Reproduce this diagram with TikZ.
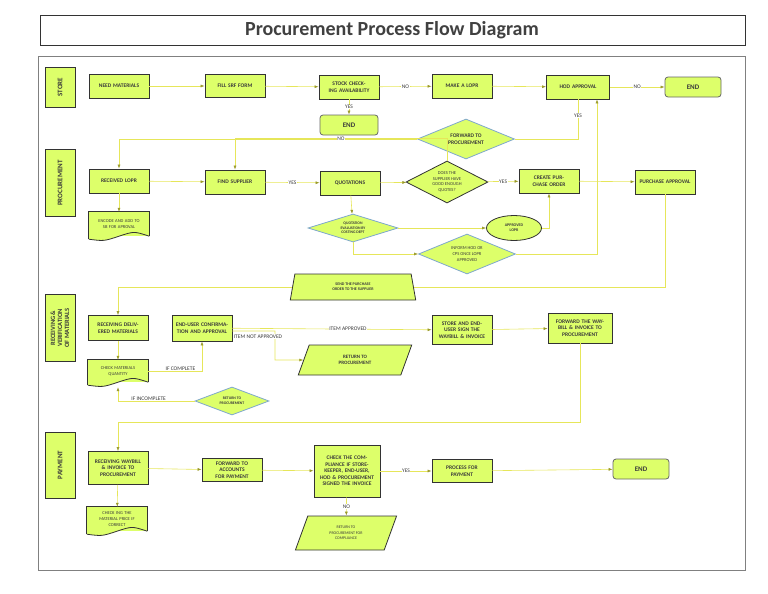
\documentclass[tikz,border=0pt]{standalone}
\usepackage{fontspec}
\setmainfont{Carlito}
\usetikzlibrary{shapes.geometric,calc,arrows.meta}
\definecolor{boxfill}{HTML}{DDFF6A}
\definecolor{linec}{HTML}{E6E65A}
\definecolor{tipc}{HTML}{9A9A2A}
\definecolor{txtc}{HTML}{3A3A3A}
\definecolor{dblue}{HTML}{7FA8CC}
\tikzset{
  x=1pt, y=-1pt,
  every node/.style={font=\fontsize{5.5}{6.5}\selectfont\bfseries, text=txtc, align=center, inner sep=1pt},
  box/.style={draw=black!80, thick, fill=boxfill, minimum width=#1, text width=#1-6pt},
  box/.default=60pt,
  term/.style={draw=black!60, thick, fill=boxfill, rounded corners=3pt, minimum width=56pt, minimum height=20pt, font=\fontsize{7}{8}\selectfont\bfseries},
  dia/.style={diamond, draw=dblue, thick, fill=boxfill, aspect=2.4, inner sep=0pt},
  doc/.style={fill=boxfill, minimum width=60pt, text width=56pt, font=\fontsize{4.5}{6}\selectfont},
  para/.style={trapezium, trapezium left angle=70, trapezium right angle=110, draw=black!80, thick, fill=boxfill, font=\fontsize{4.5}{6}\selectfont},
  lane/.style={draw=black!80, thick, fill=boxfill, minimum width=30pt, font=\fontsize{7}{8}\selectfont\bfseries, rotate=90},
  arr/.style={draw=linec, semithick, -{Latex[length=4pt,width=3pt,color=tipc]}},
  ln/.style={draw=linec, semithick},
  lbl/.style={font=\fontsize{5.5}{6.5}\selectfont, fill=white, inner sep=0.5pt},
}
\newcommand\wavydoc[1]{%
  \fill[boxfill] (#1.north west) -- (#1.north east) -- (#1.south east)
   .. controls ($($(#1.south)!0.5!(#1.south east)$)+(0,-5)$) .. (#1.south)
   .. controls ($($(#1.south)!0.5!(#1.south west)$)+(0,5)$) .. ($(#1.south west)+(0,3)$) -- cycle;
  \draw[black!80, thick] (#1.south east) -- (#1.north east) -- (#1.north west) -- ($(#1.south west)+(0,3)$);
  \draw[black!80, thick] (#1.south east)
   .. controls ($($(#1.south)!0.5!(#1.south east)$)+(0,-5)$) .. (#1.south)
   .. controls ($($(#1.south)!0.5!(#1.south west)$)+(0,5)$) .. ($(#1.south west)+(0,3)$);
  \node[doc] at (#1) {\csname doctext#1\endcsname};}
\begin{document}
\begin{tikzpicture}
\useasboundingbox (0,0) rectangle (768,594);
% frames
\draw[black!80, thick] (40,15) rectangle (745,45);
\node[font=\fontsize{20}{22}\selectfont\bfseries, text=black!75] (title) at (392,30) {Procurement Process Flow Diagram};
\draw[black!50, thick] (38,56) rectangle (745,570);
% lanes
\node[lane, minimum height=30pt, minimum width=40pt] (lstore) at (60,87) {STORE};
\node[lane, minimum height=30pt, minimum width=67pt] (lproc) at (60,183) {PROCUREMENT};
\node[lane, minimum height=30pt, minimum width=67pt, font=\fontsize{6.5}{7}\selectfont\bfseries] (lrecv) at (60,328) {RECEIVING \&\\VERIFICATION\\OF MATERIALS};
\node[lane, minimum height=30pt, minimum width=66pt] (lpay) at (60,465) {PAYMENT};
% store row
\node[box, minimum height=24pt] (need) at (119,86) {NEED MATERIALS};
\node[box, minimum height=23pt] (srf) at (235,86) {FILL SRF FORM};
\node[box, minimum height=24pt] (stock) at (349,87) {STOCK CHECKING AVAILABILITY};
\node[box, minimum height=24pt] (lopr) at (462,86) {MAKE A LOPR};
\node[box=63pt, minimum height=24pt] (hod) at (578,87) {HOD APPROVAL};
\node[term] (end1) at (693,87) {END};
\node[term, minimum width=58pt] (end2) at (349,125) {END};
\node[dia, minimum width=97pt, minimum height=40pt] (fwd) at (466,139) {FORWARD TO\\PROCUREMENT};
% procurement row
\node[box, minimum height=24pt] (rlopr) at (119,181) {RECEIVED LOPR};
\node[box, minimum height=24pt] (find) at (235,182) {FIND SUPPLIER};
\node[box, minimum height=24pt] (quot) at (350,183) {QUOTATIONS};
\node[dia, draw=black!80, minimum width=82pt, minimum height=42pt, font=\fontsize{4.5}{5.5}\selectfont] (good) at (447,182) {DOES THE\\SUPPLIER HAVE\\GOOD ENOUGH\\QUOTES?};
\node[box, minimum height=24pt] (cpo) at (549,181) {CREATE PURCHASE ORDER};
\node[box, minimum height=24pt] (papp) at (665,182) {PURCHASE APPROVAL};
\node[doc, minimum height=24pt] (enc) at (119,224) {};
\node[dia, minimum width=90pt, minimum height=28pt, font=\fontsize{3.8}{4.5}\selectfont\bfseries] (qeval) at (353,228) {QUOTATION\\EVALUATION BY\\COSTING DEPT};
\node[ellipse, draw=black!80, thick, fill=boxfill, minimum width=55pt, minimum height=25pt, font=\fontsize{4}{5}\selectfont\bfseries] (alopr) at (514,228) {APPROVED\\LOPR};
\node[dia, minimum width=97pt, minimum height=40pt, font=\fontsize{4.5}{6}\selectfont] (inform) at (467,254) {INFORM HOD OR\\CPS ONCE LOPR\\APPROVED};
\node[trapezium, trapezium left angle=80, trapezium right angle=80, draw=black!80, thick, fill=boxfill, minimum width=72pt, minimum height=26pt, font=\fontsize{4}{5}\selectfont\bfseries] (send) at (353,287) {SEND THE PURCHASE\\ORDER TO THE SUPPLIER};
% receiving row
\node[box, minimum height=25pt] (rdel) at (118,328) {RECEIVING DELIVERED MATERIALS};
\node[box, minimum height=26pt] (eu) at (202,328) {END-USER CONFIRMATION AND APPROVAL};
\node[box, minimum height=29pt] (ssign) at (462,330) {STORE AND END-USER SIGN THE WAYBILL \& INVOICE};
\node[box=64pt, minimum height=30pt] (fwb) at (580,328) {FORWARD THE WAYBILL \& INVOICE TO PROCUREMENT};
\node[doc, minimum height=22pt] (chk) at (118,371) {};
\node[para, minimum width=62pt, minimum height=30pt, font=\fontsize{5}{6}\selectfont\bfseries] (retp) at (355,360) {RETURN TO\\PROCUREMENT};
\node[dia, minimum width=74pt, minimum height=28pt, font=\fontsize{3.8}{4.5}\selectfont\bfseries] (retd) at (232,401) {RETURN TO\\PROCUREMENT};
% payment row
\node[box, minimum height=33pt] (rwb) at (118,468) {RECEIVING WAYBILL \& INVOICE TO PROCUREMENT};
\node[box, minimum height=23pt] (acc) at (232,470) {FORWARD TO ACCOUNTS FOR PAYMENT};
\node[box=66pt, minimum height=52pt] (comp) at (347,471) {CHECK THE COMPLIANCE IF STOREKEEPER, END-USER, HOD \& PROCUREMENT SIGNED THE INVOICE};
\node[box, minimum height=23pt] (pay) at (462,471) {PROCESS FOR PAYMENT};
\node[term] (end3) at (641,469) {END};
\node[doc, minimum height=24pt] (cprice) at (117,519) {};
\node[para, minimum width=62pt, minimum height=34pt, font=\fontsize{4}{5.5}\selectfont] (retc) at (346,533) {RETURN TO\\PROCUREMENT FOR\\COMPLIANCE};
% documents
\def\doctextenc{ENCODE AND ADD TO\\SB FOR APROVAL}
\def\doctextchk{CHECK MATERIALS\\QUANTITY}
\def\doctextcprice{CHECK ING THE\\MATERIAL PRICE IF\\CORRECT}
\wavydoc{enc}\wavydoc{chk}\wavydoc{cprice}
% connectors: store
\draw[arr] (need) -- (srf);
\draw[arr] (srf) -- (stock);
\draw[arr] (stock) -- node[lbl]{NO} (lopr);
\draw[arr] (lopr) -- (hod);
\draw[arr] (hod) -- node[lbl]{NO} (end1);
\draw[arr] (stock) -- node[lbl]{YES} (end2);
\draw[ln] (hod.south) -- node[lbl, pos=0.4]{YES} (hod.south |- fwd.east) -- (fwd.east);
\draw[arr] (fwd.west) -| (rlopr.north);
% procurement
\draw[arr] (rlopr) -- (find);
\draw[arr] (find) -- node[lbl]{YES} (quot);
\draw[arr] (quot) -- (good);
\draw[arr] (good) -- node[lbl]{YES} (cpo);
\draw[arr] (cpo) -- (papp);
\draw[arr] (good.north) -- ++(0,-22) -| node[lbl, pos=0.25]{NO} (find.north);
\draw[arr] (rlopr) -- (enc);
\draw[arr] (quot) -- (qeval);
\draw[arr] (qeval) -- (alopr);
\draw[arr] (alopr.east) -| (cpo.south);
\draw[arr] (qeval.south) |- (inform.west);
\draw[arr] (inform.east) -| ([xshift=19pt]hod.south);
\draw[ln] (papp.south) |- (send.east);
\draw[arr] (send.west) -| (rdel.north);
% receiving
\draw[arr] (rdel) -- (chk);
\draw[arr] (chk.east) -| node[lbl, pos=0.3, above]{IF COMPLETE} (eu.south);
\draw[arr, {Latex[length=4pt,width=3pt,color=tipc]}-] ([yshift=-5pt]chk.south) |- node[lbl, pos=0.7, above]{IF INCOMPLETE} (retd.west);
\draw[arr] (eu) -- node[lbl, pos=0.58]{ITEM APPROVED} (ssign);
\draw[arr] ([yshift=-3pt]eu.east) -| (275,360) node[lbl, pos=0.3, below=3pt]{ITEM NOT APPROVED} -- (retp.west);
\draw[arr] (ssign) -- (fwb);
\draw[arr] (fwb.south) |- (118,422) -- (rwb.north);
% payment
\draw[arr] (rwb) -- (acc);
\draw[arr] (acc) -- (comp);
\draw[arr] (comp) -- node[lbl]{YES} (pay);
\draw[arr] (pay) -- (end3);
\draw[arr] (rwb) -- (cprice);
\draw[arr] (comp) -- node[lbl]{NO} (retc);
\end{tikzpicture}
\end{document}
